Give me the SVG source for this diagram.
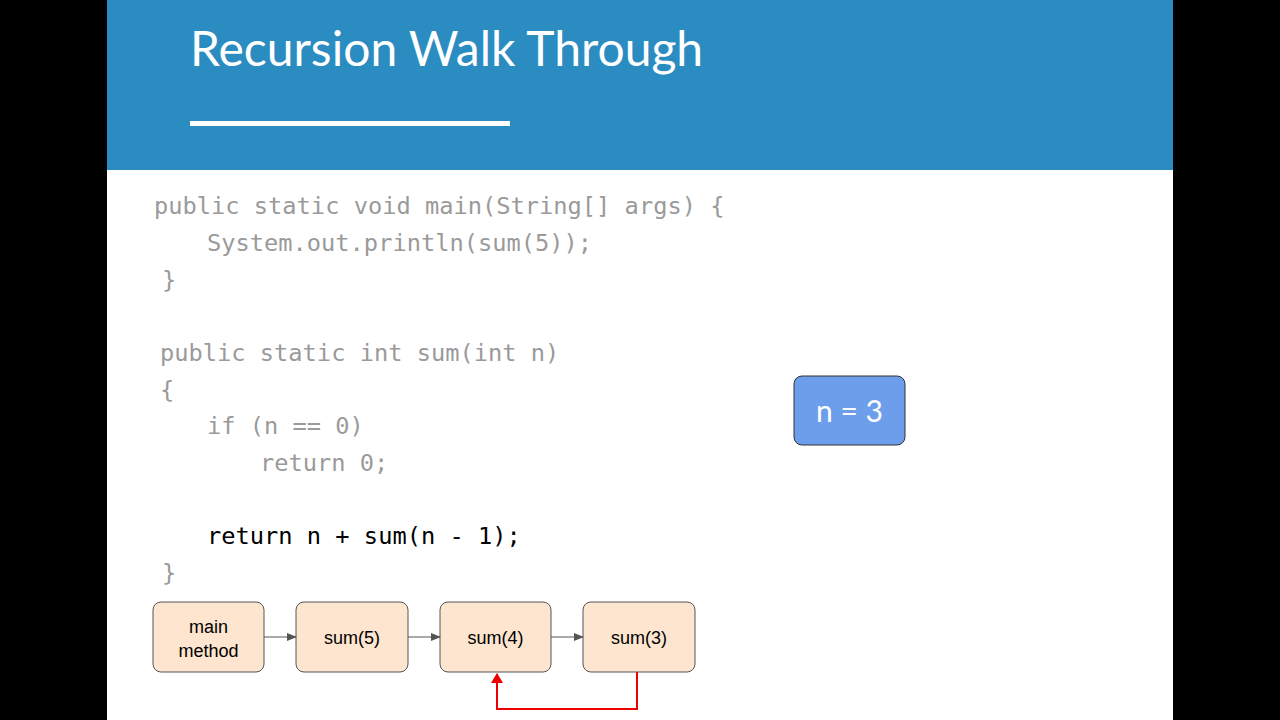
<svg xmlns="http://www.w3.org/2000/svg" width="1280" height="720" viewBox="0 0 1280 720">
<defs>
<style>
.code{font-family:"DejaVu Sans Mono","Liberation Mono",monospace;font-size:23.7px;fill:#9a9a9a}
.box{fill:#fde5cf;stroke:#555;stroke-width:1}
.lbl{font-family:"Liberation Sans",Arial,sans-serif;font-size:18px;fill:#000;text-anchor:middle}
</style>
<marker id="ag" markerWidth="10" markerHeight="8" refX="9" refY="4" orient="auto" markerUnits="userSpaceOnUse"><path d="M0,0 L10,4 L0,8 Z" fill="#555"/></marker>
<marker id="ar" markerWidth="10" markerHeight="12" refX="9" refY="6" orient="auto" markerUnits="userSpaceOnUse"><path d="M0,0 L10,6 L0,12 Z" fill="#e00"/></marker>
</defs>
<rect width="1280" height="720" fill="#000"/>
<rect x="107" y="0" width="1066" height="720" fill="#fff"/>
<rect x="107" y="0" width="1066" height="170" fill="#2a8cc0"/>
<text x="190" y="66" font-family="Lato,'Open Sans',sans-serif" font-size="48" fill="#fff">Recursion Walk Through</text>
<rect x="190" y="121" width="320" height="5" fill="#fff"/>
<g id="code">
<text class="code" x="154" y="214">public static void main(String[] args) {</text>
<text class="code" x="207" y="251">System.out.println(sum(5));</text>
<text class="code" x="162" y="288">}</text>
<text class="code" x="160" y="361">public static int sum(int n)</text>
<text class="code" x="160" y="398">{</text>
<text class="code" x="207" y="434">if (n == 0)</text>
<text class="code" x="260" y="471">return 0;</text>
<text class="code" x="207" y="544" style="fill:#000">return n + sum(n - 1);</text>
<text class="code" x="162" y="581">}</text>
</g>
<g id="nvar"><rect x="794" y="376" width="111" height="69" rx="8" fill="#6d9eeb" stroke="#333"/>
<text x="849.5" y="422" font-family="Lato,'Liberation Sans',sans-serif" font-size="30" fill="#fff" text-anchor="middle">n = 3</text></g>
<g id="main"><rect class="box" x="153" y="602" width="111" height="70" rx="8"/><text class="lbl" x="208.5" y="633">main</text><text class="lbl" x="208.5" y="657">method</text></g>
<g id="sum5"><rect class="box" x="296" y="602" width="112" height="70" rx="8"/><text class="lbl" x="352" y="644">sum(5)</text></g>
<g id="sum4"><rect class="box" x="440" y="602" width="111" height="70" rx="8"/><text class="lbl" x="495.5" y="644">sum(4)</text></g>
<g id="sum3"><rect class="box" x="583" y="602" width="112" height="70" rx="8"/><text class="lbl" x="639" y="644">sum(3)</text></g>
<g id="connectors" fill="none">
<line x1="264" y1="637" x2="296" y2="637" stroke="#555" marker-end="url(#ag)"/>
<line x1="408" y1="637" x2="440" y2="637" stroke="#555" marker-end="url(#ag)"/>
<line x1="551" y1="637" x2="583" y2="637" stroke="#555" marker-end="url(#ag)"/>
<path d="M637,672 V709 H497 V674" stroke="#e00" stroke-width="2" marker-end="url(#ar)"/>
</g>
</svg>
